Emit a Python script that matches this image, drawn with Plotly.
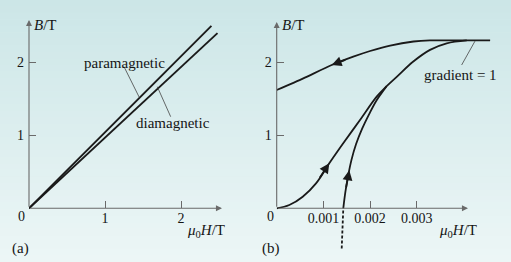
import plotly.graph_objects as go

# ---------------- data: panel (a) ----------------
para_H = [0.0, 2.40]
para_B = [0.0, 2.50]
dia_H = [0.0, 2.48]
dia_B = [0.0, 2.40]
para_lead_H = [1.25, 1.451]
para_lead_B = [1.94, 1.52]
dia_lead_H = [1.688, 1.864]
dia_lead_B = [1.666, 1.255]
a_xticks = [1, 2]
a_yticks = [1, 2]

# ---------------- data: panel (b) ----------------
init_H = [0, 0.00027, 0.000557, 0.000842, 0.001126, 0.001413, 0.001784, 0.002141,
          0.00235, 0.00257, 0.002925, 0.003283, 0.00364, 0.00407]
init_B = [0, 0.045, 0.159, 0.342, 0.616, 0.88, 1.21, 1.53,
          1.67, 1.80, 2.01, 2.17, 2.26, 2.30]
recoil_H = [0.001426, 0.00147, 0.001525, 0.0016, 0.0017, 0.00183, 0.00198, 0.00214, 0.00235]
recoil_B = [0.0, 0.22, 0.43, 0.66, 0.88, 1.09, 1.29, 1.48, 1.67]
dash_H = [0.001392, 0.001426]
dash_B = [-0.55, 0.0]
upper_H = [0, 0.00057, 0.001178, 0.00164, 0.0020, 0.00243, 0.00293, 0.00328, 0.0037, 0.00457]
upper_B = [1.62, 1.78, 1.963, 2.077, 2.155, 2.23, 2.285, 2.30, 2.30, 2.30]
grad_lead_H = [0.004246, 0.00396]
grad_lead_B = [2.29, 1.963]
arrow_tip_H = [0.001178, 0.001126, 0.001555]
arrow_tip_B = [1.963, 0.616, 0.52]
arrow_tail_H = [0.00150, 0.00090, 0.00148]
arrow_tail_B = [2.042, 0.398, 0.265]
b_xticks = [0.001, 0.002, 0.003]
b_xticklabels = ["0.001", "0.002", "0.003"]
b_yticks = [1, 2]

W, Hh = 511, 262
FONT = "Liberation Serif"
TXT = "#151515"
AX = "#6a6a6a"
CURVE = "#1a1a1a"


def px(x):
    return x / W


def py(y):
    return (Hh - y) / Hh


fig = go.Figure()

# panel a traces
fig.add_trace(go.Scatter(x=para_H, y=para_B, mode="lines", line=dict(color=CURVE, width=1.9),
                         xaxis="x", yaxis="y"))
fig.add_trace(go.Scatter(x=dia_H, y=dia_B, mode="lines", line=dict(color=CURVE, width=1.9),
                         xaxis="x", yaxis="y"))
fig.add_trace(go.Scatter(x=para_lead_H, y=para_lead_B, mode="lines", line=dict(color="#444", width=0.8),
                         xaxis="x", yaxis="y"))
fig.add_trace(go.Scatter(x=dia_lead_H, y=dia_lead_B, mode="lines", line=dict(color="#444", width=0.8),
                         xaxis="x", yaxis="y"))

# panel b traces
fig.add_trace(go.Scatter(x=init_H, y=init_B, mode="lines",
                         line=dict(color=CURVE, width=1.8, shape="spline", smoothing=1.0),
                         xaxis="x2", yaxis="y2"))
fig.add_trace(go.Scatter(x=recoil_H, y=recoil_B, mode="lines",
                         line=dict(color=CURVE, width=1.8, shape="spline", smoothing=1.0),
                         xaxis="x2", yaxis="y2"))
fig.add_trace(go.Scatter(x=dash_H, y=dash_B, mode="lines",
                         line=dict(color=CURVE, width=1.8, dash="3px,2px"),
                         xaxis="x2", yaxis="y2"))
fig.add_trace(go.Scatter(x=upper_H, y=upper_B, mode="lines",
                         line=dict(color=CURVE, width=1.8, shape="spline", smoothing=0.6),
                         xaxis="x2", yaxis="y2"))
fig.add_trace(go.Scatter(x=grad_lead_H, y=grad_lead_B, mode="lines", line=dict(color="#444", width=0.8),
                         xaxis="x2", yaxis="y2"))

# background gradient
shapes = []
N = 40
top = (204, 230, 231)
bot = (236, 246, 246)
for i in range(N):
    t = i / (N - 1)
    c = tuple(round(top[k] + (bot[k] - top[k]) * t) for k in range(3))
    shapes.append(dict(type="rect", xref="paper", yref="paper", x0=0, x1=1,
                       y0=1 - (i + 1) / N, y1=1 - i / N + 0.002,
                       fillcolor="rgb(%d,%d,%d)" % c, line=dict(width=0), layer="below"))

# y scale: 73 px per unit, origin at pixel y 208.3
ORIG_Y = 208.3
y_bot_px, y_top_px = 250, 18
yr = [-(y_bot_px - ORIG_Y) / 73, (ORIG_Y - y_top_px) / 73]
ydom = [py(y_bot_px), py(y_top_px)]

a_x0, a_x1 = 29, 232
b_x0, b_x1 = 276.7, 500

tickfont = dict(family=FONT, size=14, color=TXT)
common_ax = dict(showgrid=False, zeroline=False, showline=False, ticks="inside", ticklen=7,
                 tickwidth=1, tickcolor=AX, tickfont=tickfont)

fig.update_layout(
    width=W, height=Hh, margin=dict(l=0, r=0, t=0, b=0),
    paper_bgcolor="rgb(220,238,238)", plot_bgcolor="rgba(0,0,0,0)",
    showlegend=False, shapes=shapes,
    xaxis=dict(domain=[px(a_x0), px(a_x1)], range=[0, (a_x1 - a_x0) / 76],
               anchor="free", position=py(ORIG_Y), tickvals=a_xticks, ticklabelstandoff=0,
               **common_ax),
    yaxis=dict(domain=ydom, range=yr, anchor="x", tickvals=a_yticks, ticklabelstandoff=4,
               **common_ax),
    xaxis2=dict(domain=[px(b_x0), px(b_x1)], range=[0, (b_x1 - b_x0) / 46.7 * 0.001],
                anchor="free", position=py(ORIG_Y), tickvals=b_xticks, ticktext=b_xticklabels,
                ticklabelstandoff=0, **common_ax),
    yaxis2=dict(domain=ydom, range=yr, anchor="x2", tickvals=b_yticks, ticklabelstandoff=4,
                **common_ax),
)

ann = []
# axis lines with arrows
axis_arrows = [
    ("x", "y", (222 - a_x0) / 76, 0, 0, 0),
    ("x", "y", 0, (ORIG_Y - 20) / 73, 0, 0),
    ("x2", "y2", (468 - b_x0) / 46.7 * 0.001, 0, 0, 0),
    ("x2", "y2", 0, (ORIG_Y - 22) / 73, 0, 0),
]
for xr, yrf, x, y, axv, ayv in axis_arrows:
    ann.append(dict(xref=xr, yref=yrf, axref=xr, ayref=yrf, x=x, y=y, ax=axv, ay=ayv,
                    text="", showarrow=True, arrowhead=2, arrowsize=1.1, arrowwidth=1.1,
                    arrowcolor=AX, standoff=0, startstandoff=0))
# curve direction arrows
for i in range(len(arrow_tip_H)):
    ann.append(dict(xref="x2", yref="y2", axref="x2", ayref="y2",
                    x=arrow_tip_H[i], y=arrow_tip_B[i], ax=arrow_tail_H[i], ay=arrow_tail_B[i],
                    text="", showarrow=True, arrowhead=2, arrowsize=1.1, arrowwidth=1.8,
                    arrowcolor=CURVE, standoff=0))

f15 = dict(family=FONT, size=15, color=TXT)
f14 = dict(family=FONT, size=14, color=TXT)
C = dict(xanchor="center", yanchor="middle", showarrow=False)
L = dict(xanchor="left", yanchor="middle", showarrow=False)
ann += [
    dict(xref="x", yref="y", x=1.263, y=1.995, text="paramagnetic", font=f15, **C),
    dict(xref="x", yref="y", x=1.895, y=1.168, text="diamagnetic", font=f15, **C),
    dict(xref="x2", yref="y2", x=0.00393, y=1.83, text="gradient = 1", font=f15, **C),
    dict(xref="paper", yref="paper", x=px(21), y=py(216), text="0", font=f14, **C),
    dict(xref="paper", yref="paper", x=px(270), y=py(216), text="0", font=f14, **C),
    dict(xref="paper", yref="paper", x=px(32), y=py(25), text="<i>B</i>/T", font=f15, **L),
    dict(xref="paper", yref="paper", x=px(280), y=py(25), text="<i>B</i>/T", font=f15, **L),
    dict(xref="paper", yref="paper", x=px(185), y=py(231),
         text="<i>μ</i><sub>0</sub><i>H</i>/T", font=f15, **L),
    dict(xref="paper", yref="paper", x=px(437), y=py(231),
         text="<i>μ</i><sub>0</sub><i>H</i>/T", font=f15, **L),
    dict(xref="paper", yref="paper", x=px(10), y=py(248), text="(a)", font=f15, **L),
    dict(xref="paper", yref="paper", x=px(260), y=py(248), text="(b)", font=f15, **L),
]
fig.update_layout(annotations=ann)

fig.write_html("out.html")
